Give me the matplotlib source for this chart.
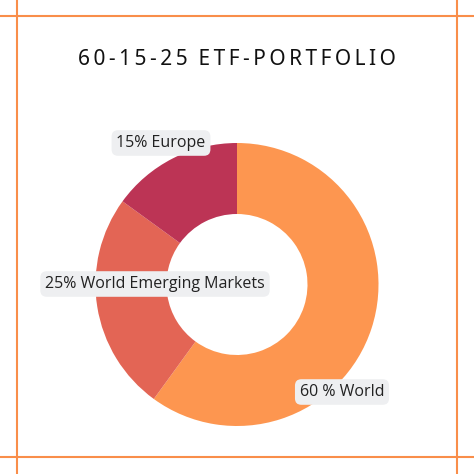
import matplotlib
matplotlib.use("Agg")
import matplotlib.pyplot as plt
from matplotlib.lines import Line2D

labels = ["60 % World", "25% World Emerging Markets", "15% Europe"]
values = [60, 25, 15]
colors = ["#FD9650", "#E36555", "#BC3455"]
title = "60-15-25 ETF-PORTFOLIO"

H = 474
fig = plt.figure(figsize=(4.74, 4.74), dpi=100)
ax = fig.add_axes([0, 0, 1, 1])

ax.pie(values, colors=colors, startangle=90, counterclock=False,
       center=(237, H - 284.5), radius=141.5,
       wedgeprops=dict(width=71, linewidth=0))
ax.set_xlim(0, H); ax.set_ylim(0, H); ax.set_aspect("equal"); ax.axis("off")

lc = "#F98E4A"
for x in (17, 457):
    ax.add_line(Line2D([x, x], [0, H], color=lc, lw=1.5))
for y in (16, 457):
    ax.add_line(Line2D([0, H], [H - y, H - y], color=lc, lw=1.5))

pos = [(342, 392), (155, 284), (161, 143)]
for lab, (x, y) in zip(labels, pos):
    ax.text(x, H - y, lab, ha="center", va="center", fontsize=11.5,
            family="Open Sans", color="#222222",
            bbox=dict(boxstyle="round,pad=0.3,rounding_size=0.4",
                      fc="#EEEFF1", ec="none"))

ax.text(237, H - 59, "\u2009".join(title).replace("\u2009 \u2009", "  "),
        ha="center", va="center", fontsize=15, family="Noto Sans",
        color="#111111")

fig.savefig("out.png", dpi=100)
